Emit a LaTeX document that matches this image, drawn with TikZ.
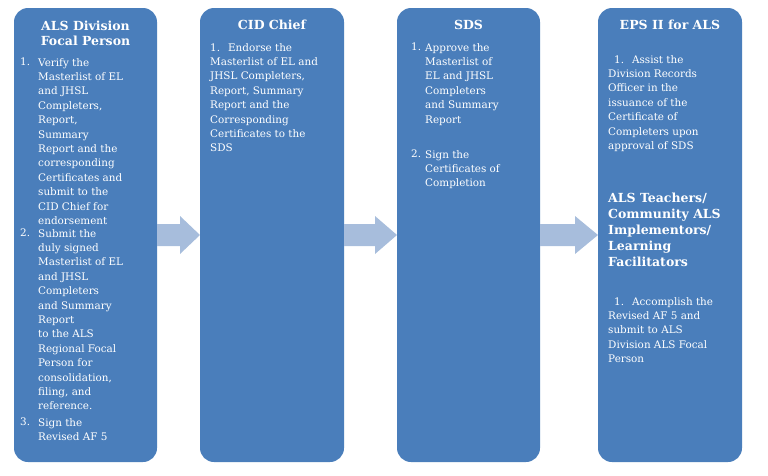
\documentclass[tikz,border=0pt]{standalone}
\usepackage{fontspec}
\setmainfont{DejaVu Serif}
\definecolor{boxblue}{HTML}{4A7EBB}
\definecolor{arrblue}{HTML}{A7BDDC}
\begin{document}
\begin{tikzpicture}[x=1pt,y=-1pt,
  col/.style={fill=boxblue,draw=none,rounded corners=14pt},
  arr/.style={fill=arrblue,draw=none},
  hd/.style={text=white,font=\fontsize{12.5}{15}\selectfont\bfseries,align=center,inner sep=0},
  hdl/.style={text=white,font=\fontsize{12.5}{16}\selectfont\bfseries,align=left,anchor=north west,inner sep=0},
  tx/.style={text=white,font=\fontsize{10.4}{14.4}\selectfont,align=left,anchor=north west,inner sep=0}]
\useasboundingbox (0,0) rectangle (768,475);
\fill[col] (14,8) rectangle (157,462);
\fill[col] (200,8) rectangle (344,462);
\fill[col] (397,8) rectangle (540,462);
\fill[col] (598,8) rectangle (742,462);
\fill[arr] (157,224) -- (180,224) -- (180,216) -- (200,235) -- (180,254) -- (180,246) -- (157,246) -- cycle;
\fill[arr] (344,224) -- (375,224) -- (375,216) -- (397,235) -- (375,254) -- (375,246) -- (344,246) -- cycle;
\fill[arr] (540,224) -- (575,224) -- (575,216) -- (598,235) -- (575,254) -- (575,246) -- (540,246) -- cycle;
% column 1
\node[hd] (h1) at (85.5,33) {ALS Division\\Focal Person};
\node[tx] (n11) at (20,58) {1.};
\node[tx] (t11) at (38,58) {Verify the\\Masterlist of EL\\and JHSL\\Completers,\\Report,\\Summary\\Report and the\\corresponding\\Certificates and\\submit to the\\CID Chief for\\endorsement};
\node[tx] (n12) at (20,229) {2.};
\node[tx] (t12) at (38,229) {Submit the\\duly signed\\Masterlist of EL\\and JHSL\\Completers\\and Summary\\Report\\to the ALS\\Regional Focal\\Person for\\consolidation,\\filing, and\\reference.};
\node[tx] (n13) at (20,418) {3.};
\node[tx] (t13) at (38,418) {Sign the\\Revised AF 5};
% column 2
\node[hd] (h2) at (272,25) {CID Chief};
\node[tx] (t21) at (210,43) {\hspace*{0pt}1.\hspace{8pt}Endorse the\\Masterlist of EL and\\JHSL Completers,\\Report, Summary\\Report and the\\Corresponding\\Certificates to the\\SDS};
% column 3
\node[hd] (h3) at (468.5,25) {SDS};
\node[tx] (n31) at (411,43) {1.};
\node[tx] (t31) at (425,43) {Approve the\\Masterlist of\\EL and JHSL\\Completers\\and Summary\\Report};
\node[tx] (n32) at (411,150) {2.};
\node[tx] (t32) at (425,150) {Sign the\\Certificates of\\Completion};
% column 4
\node[hd] (h4) at (670,25) {EPS II for ALS};
\node[tx] (t41) at (608,55) {\hspace*{6pt}1.\hspace{8pt}Assist the\\Division Records\\Officer in the\\issuance of the\\Certificate of\\Completers upon\\approval of SDS};
\node[hdl] (h42) at (608,193) {ALS Teachers/\\Community ALS\\Implementors/\\Learning\\Facilitators};
\node[tx] (t42) at (608,297) {\hspace*{6pt}1.\hspace{8pt}Accomplish the\\Revised AF 5 and\\submit to ALS\\Division ALS Focal\\Person};
\end{tikzpicture}
\end{document}
